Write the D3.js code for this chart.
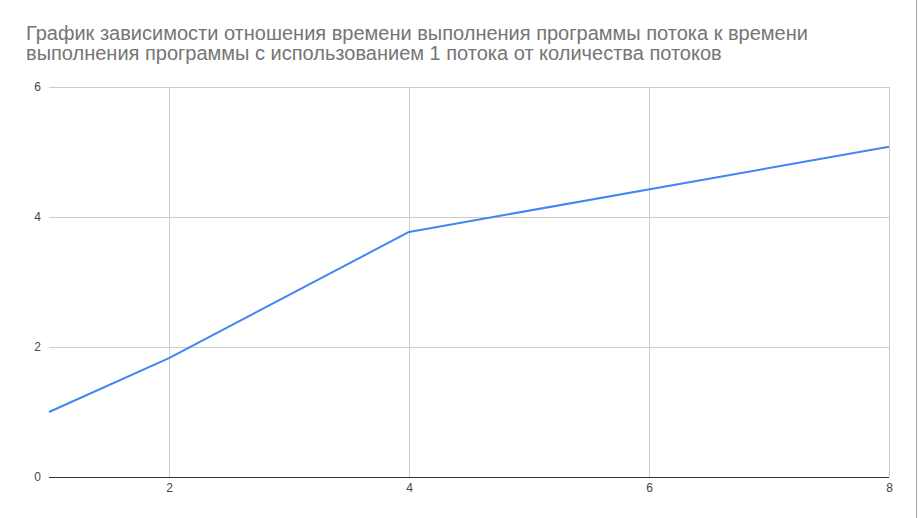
<!DOCTYPE html>
<html>
<head>
<meta charset="utf-8">
<script src="https://cdn.jsdelivr.net/npm/d3@7"></script>
<style>
  body { margin: 0; background: #fff; }
  svg { display: block; }
</style>
</head>
<body>
<svg width="918" height="518"></svg>
<script>
// thread counts and time ratio
var threads = [1, 2, 4, 8];
var ratio = [1.0, 1.83, 3.77, 5.08];
var xTicks = [2, 4, 6, 8];
var yTicks = [0, 2, 4, 6];
var titleLines = [
    "График зависимости отношения времени выполнения программы потока к времени",
    "выполнения программы с использованием 1 потока от количества потоков"
];

var width = 918, height = 518;
var margin = {top: 87, right: 29, bottom: 41, left: 49};

var svg = d3.select("svg");

// light strip + border at the right edge
svg.append("rect")
    .attr("x", 916).attr("y", 0)
    .attr("width", 2).attr("height", height)
    .attr("fill", "#f3f3f3");
svg.append("line")
    .attr("x1", 916.5).attr("x2", 916.5)
    .attr("y1", 0).attr("y2", height)
    .attr("stroke", "#a8a8a8");

var x = d3.scaleLinear()
    .domain([1, 8])
    .range([margin.left, width - margin.right]);

var y = d3.scaleLinear()
    .domain([0, 6])
    .range([height - margin.bottom, margin.top]);

// title
svg.append("g")
    .selectAll("text")
    .data(titleLines)
    .enter().append("text")
    .attr("x", 26)
    .attr("y", function(d, i) { return 40 + i * 19.5; })
    .attr("fill", "#757575")
    .style("font-family", "Arial, 'Liberation Sans', sans-serif")
    .style("font-size", "20px")
    .text(function(d) { return d; });

// horizontal grid
svg.append("g")
    .selectAll("line")
    .data(yTicks.filter(function(d) { return d > 0; }))
    .enter().append("line")
    .attr("x1", x(1)).attr("x2", x(8))
    .attr("y1", function(d) { return Math.round(y(d)) + 0.5; })
    .attr("y2", function(d) { return Math.round(y(d)) + 0.5; })
    .attr("stroke", "#cccccc");

// vertical grid
svg.append("g")
    .selectAll("line")
    .data(xTicks)
    .enter().append("line")
    .attr("x1", function(d) { return Math.round(x(d)) + 0.5; })
    .attr("x2", function(d) { return Math.round(x(d)) + 0.5; })
    .attr("y1", y(6)).attr("y2", y(0))
    .attr("stroke", "#cccccc");

// y labels
var yAxis = d3.axisLeft(y).tickValues(yTicks).tickFormat(d3.format("d"))
    .tickSize(0).tickPadding(8);
var gy = svg.append("g")
    .attr("transform", "translate(" + margin.left + ",0)")
    .call(yAxis);
gy.select(".domain").remove();
gy.selectAll("text")
    .attr("fill", "#444")
    .style("font-family", "Arial, 'Liberation Sans', sans-serif")
    .style("font-size", "12px");

// x labels
var xAxis = d3.axisBottom(x).tickValues(xTicks).tickFormat(d3.format("d"))
    .tickSize(0).tickPadding(6);
var gx = svg.append("g")
    .attr("transform", "translate(0," + (height - margin.bottom) + ")")
    .call(xAxis);
gx.select(".domain").remove();
gx.selectAll("text")
    .attr("fill", "#444")
    .style("font-family", "Arial, 'Liberation Sans', sans-serif")
    .style("font-size", "12px");

// baseline
svg.append("line")
    .attr("x1", x(1)).attr("x2", x(8))
    .attr("y1", Math.round(y(0)) + 0.5).attr("y2", Math.round(y(0)) + 0.5)
    .attr("stroke", "#333333");

// series
var line = d3.line()
    .x(function(d, i) { return x(threads[i]); })
    .y(function(d) { return y(d); });

svg.append("path")
    .datum(ratio)
    .attr("d", line)
    .attr("fill", "none")
    .attr("stroke", "#4285f4")
    .attr("stroke-width", 2)
    .attr("stroke-linejoin", "round");
</script>
</body>
</html>
